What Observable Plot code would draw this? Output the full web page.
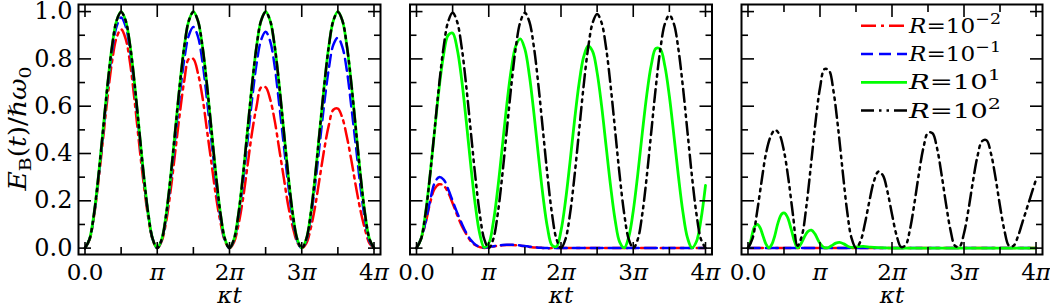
<!DOCTYPE html>
<html><head><meta charset="utf-8">
<script src="https://cdn.jsdelivr.net/npm/d3@7"></script>
<script src="https://cdn.jsdelivr.net/npm/@observablehq/plot@0.6"></script>
<style>
html,body{margin:0;padding:0;background:#fff;}
#chart{position:relative;width:1050px;height:306px;overflow:hidden;background:#fff;}
#chart svg{position:absolute;left:0;top:0;}
</style></head><body><div id="chart"></div>
<script>
// ---- data (kappa*t in units of pi) ----
const kt = [0,.0625,.125,.1875,.25,.3125,.375,.4375,.5,.5625,.625,.6875,.75,.8125,.875,.9375,
  1,1.0625,1.125,1.1875,1.25,1.3125,1.375,1.4375,1.5,1.5625,1.625,1.6875,1.75,1.8125,1.875,1.9375,
  2,2.0625,2.125,2.1875,2.25,2.3125,2.375,2.4375,2.5,2.5625,2.625,2.6875,2.75,2.8125,2.875,2.9375,
  3,3.0625,3.125,3.1875,3.25,3.3125,3.375,3.4375,3.5,3.5625,3.625,3.6875,3.75,3.8125,3.875,3.9375,4];

// Panel 1
const p1Red = [0,.035,.135,.286,.462,.639,.79,.89,.925,.885,.78,.62,.44,.27,.13,.035,
  0,.03,.115,.25,.41,.57,.71,.80,.80,.74,.64,.50,.36,.22,.11,.03,
  0,.025,.10,.21,.35,.49,.60,.68,.68,.63,.54,.42,.30,.18,.09,.025,
  0,.02,.085,.18,.30,.42,.52,.585,.59,.55,.47,.37,.26,.16,.08,.02,0];
const p1Blue = [0,.037,.142,.30,.487,.674,.833,.938,.975,.938,.833,.674,.487,.30,.142,.037,
  0,.035,.137,.29,.47,.65,.80,.90,.935,.895,.79,.63,.455,.28,.13,.033,
  0,.034,.133,.28,.455,.63,.78,.88,.915,.875,.77,.61,.44,.27,.125,.032,
  0,.033,.13,.275,.445,.615,.76,.86,.89,.85,.75,.595,.43,.26,.12,.03,0];
const p1Green = [0,.038,.146,.309,.5,.691,.854,.962,1,.962,.854,.691,.5,.309,.146,.038,
  0,.038,.146,.309,.5,.691,.854,.962,1,.962,.854,.691,.5,.309,.146,.038,
  0,.038,.146,.309,.5,.691,.854,.962,1,.962,.854,.691,.5,.309,.146,.038,
  0,.038,.146,.309,.5,.691,.854,.962,1,.962,.854,.691,.5,.309,.146,.038,0];
const p1Black = [0,.038,.146,.309,.5,.691,.854,.962,.998,.962,.854,.691,.5,.309,.146,.038,
  0,.038,.146,.309,.5,.691,.854,.962,.998,.962,.854,.691,.5,.309,.146,.038,
  0,.038,.146,.309,.5,.691,.854,.962,.998,.962,.854,.691,.5,.309,.146,.038,
  0,.038,.146,.309,.5,.691,.854,.962,.998,.962,.854,.691,.5,.309,.146,.038,0];

// Panel 2
const p2Red = [0,.04,.105,.19,.25,.27,.265,.235,.19,.14,.095,.06,.03,.013,.004,.001,
  .003,.007,.01,.012,.013,.013,.012,.01,.008,.005,.003,.002,.001,0,0,0,
  0,0,0,0,0,0,0,0,0,0,0,0,0,0,0,0,
  0,0,0,0,0,0,0,0,0,0,0,0,0,0,0,0,0];
const p2Blue = [0,.04,.11,.20,.275,.30,.29,.25,.20,.15,.105,.065,.035,.015,.005,.002,
  .004,.008,.011,.013,.014,.014,.013,.011,.009,.006,.004,.002,.001,0,0,0,
  0,0,0,0,0,0,0,0,0,0,0,0,0,0,0,0,
  0,0,0,0,0,0,0,0,0,0,0,0,0,0,0,0,0];
const p2Green = [0,.039,.148,.309,.495,.675,.818,.900,.909,.843,.713,.540,.353,.185,.061,.003,
  .020,.108,.252,.428,.607,.757,.856,.885,.841,.730,.571,.391,.222,.087,.012,.007,
  .074,.200,.365,.540,.696,.807,.855,.832,.742,.600,.429,.260,.117,.025,.001,.047,
  .157,.312,.486,.649,.775,.844,.841,.770,.642,.477,.305,.152,.044,.001,.028,.121,.265];
const p2Black = [0,.038,.146,.308,.498,.688,.85,.957,.995,.957,.85,.688,.498,.308,.146,.038,
  0,.038,.146,.308,.498,.688,.85,.957,.995,.957,.85,.688,.498,.308,.146,.038,
  0,.038,.145,.306,.495,.684,.845,.952,.99,.952,.845,.684,.495,.306,.145,.038,
  0,.037,.144,.304,.493,.681,.841,.948,.985,.948,.841,.681,.493,.304,.144,.037,0];

// Panel 3
const p3FlatX = [0,1,2,3,4];
const p3Red = [0,0,0,0,0];
const p3Blue = [0,0,0,0,0];
const p3GreenX = [0,.03,.06,.09,.13,.17,.21,.25,.29,.33,.37,.42,.47,.51,.55,.60,.65,.69,.73,.78,.83,.88,.93,.99,
  1.05,1.1,1.16,1.22,1.27,1.33,1.4,1.45,1.53,1.6,1.7,1.8,2,2.5,3,3.5,4];
const p3Green = [0,.02,.06,.09,.10,.085,.05,.017,.001,.015,.05,.11,.145,.148,.13,.08,.025,.001,.015,.045,.07,.076,.06,.025,
  .004,.001,.01,.021,.024,.018,.006,.003,.006,.007,.004,.002,0,0,0,0,0];
const p3Black = [0,.04,.15,.28,.40,.47,.50,.48,.41,.29,.14,.01,.054,.181,.353,.532,
  .677,.757,.751,.663,.512,.332,.161,.043,0,.029,.105,.201,.284,.324,.307,.238,
  .143,.055,.005,.012,.080,.192,.318,.426,.488,.486,.423,.313,.187,.076,.010,.006,
  .063,.164,.284,.389,.452,.456,.399,.298,.178,.073,.010,.01,.05,.11,.17,.23,.29];

const seriesExp = ["\u22122", "\u22121", "1", "2"];
const xMajor = [0,1,2,3,4];
const xMinor = [0.5,1.5,2.5,3.5];
const xTickLabels = ["0.0","\u03c0","2\u03c0","3\u03c0","4\u03c0"];
const yMajor = [0,0.2,0.4,0.6,0.8,1.0];
const yMinor = [0.1,0.3,0.5,0.7,0.9];
const yTickLabels = ["0.0","0.2","0.4","0.6","0.8","1.0"];

// ---- styles ----
const styles = [
  {stroke:"#ff0000", strokeWidth:2.5, dash:"15,5,3,5"},
  {stroke:"#0000ff", strokeWidth:2.5, dash:"12,6"},
  {stroke:"#00ff00", strokeWidth:2.8, dash:null},
  {stroke:"#000000", strokeWidth:2.5, dash:"13,5,2.5,5,2.5,5"}
];
const FONT = "DejaVu Serif";
const W = 1050, H = 306;

const rows = (xs, ys) => xs.map((x, i) => ({x, y: ys[i]}));

const panels = [
  {left:78, right:380, ser:[[kt,p1Red],[kt,p1Blue],[kt,p1Green],[kt,p1Black]], ylab:true},
  {left:409.5, right:711.5, ser:[[kt,p2Red],[kt,p2Blue],[kt,p2Green],[kt,p2Black]], ylab:false},
  {left:741, right:1042, ser:[[p3FlatX,p3Red],[p3FlatX,p3Blue],[p3GreenX,p3Green],[kt,p3Black]], ylab:false, legend:true}
];

const chart = document.getElementById("chart");
const blank = () => "";

panels.forEach((p) => {
  const tk = {tickFormat: blank, label: null, strokeWidth: 1.6};
  const marks = [];
  p.ser.forEach(([xs, ys], k) => {
    const s = styles[k];
    marks.push(Plot.line(rows(xs, ys), {x:"x", y:"y", stroke:s.stroke, strokeWidth:s.strokeWidth,
      strokeDasharray: s.dash, curve:"catmull-rom"}));
  });
  marks.push(
    Plot.frame({strokeWidth: 2}),
    Plot.axisX(xMajor, {...tk, anchor:"bottom", tickSize:-12}),
    Plot.axisX(xMajor, {...tk, anchor:"top", tickSize:-12}),
    Plot.axisX(xMinor, {...tk, anchor:"bottom", tickSize:-7}),
    Plot.axisX(xMinor, {...tk, anchor:"top", tickSize:-7}),
    Plot.axisY(yMajor, {...tk, anchor:"left", tickSize:-13}),
    Plot.axisY(yMajor, {...tk, anchor:"right", tickSize:-13}),
    Plot.axisY(yMinor, {...tk, anchor:"left", tickSize:-7}),
    Plot.axisY(yMinor, {...tk, anchor:"right", tickSize:-7}),
    Plot.axisX(xMajor, {anchor:"bottom", tickSize:0, tickPadding:9, label:null, fontSize:23,
      tickFormat: d => xTickLabels[xMajor.indexOf(d)]}),
    Plot.text(["\u03bat"], {frameAnchor:"bottom", lineAnchor:"middle", dy:41.5, fontStyle:"italic", fontSize:23})
  );
  if (p.ylab) marks.push(Plot.axisY(yMajor, {anchor:"left", tickSize:0, tickPadding:6, label:null,
      tickFormat: d => yTickLabels[yMajor.indexOf(d)]}));

  const svg = Plot.plot({
    width: W, height: H,
    marginLeft: p.left, marginRight: W - p.right, marginTop: 4, marginBottom: 52,
    style: {fontFamily: FONT, fontSize: "24px", background: "transparent", overflow: "visible", maxWidth: "none"},
    x: {domain: [-0.09, 4.09]},
    y: {domain: [-0.027, 1.03]},
    marks
  });
  chart.appendChild(svg);
  const g = d3.select(svg);

  // italic pi in the x tick labels
  g.selectAll("text").each(function() {
    const s = this.textContent;
    if (this.childElementCount === 0 && s.includes("\u03c0")) {
      const num = s.replace("\u03c0", "");
      this.textContent = "";
      const sel = d3.select(this);
      if (num) sel.append("tspan").text(num);
      sel.append("tspan").attr("font-style", "italic").text("\u03c0");
    }
  });

  if (p.ylab) {
    const t = g.append("text")
      .attr("transform", "translate(26,128.5) rotate(-90)")
      .attr("text-anchor", "middle")
      .attr("font-family", FONT).attr("font-size", 24).attr("fill", "black")
      .attr("textLength", 124).attr("lengthAdjust", "spacingAndGlyphs");
    t.append("tspan").attr("font-style", "italic").text("E");
    t.append("tspan").attr("font-size", 17).attr("dy", 5).text("B");
    t.append("tspan").attr("dy", -5).text("(");
    t.append("tspan").attr("font-style", "italic").text("t");
    t.append("tspan").text(")/");
    t.append("tspan").attr("font-style", "italic").text("\u210f\u03c9");
    t.append("tspan").attr("font-size", 17).attr("dy", 5).text("0");
  }

  if (p.legend) {
    const rowsY = [25.7, 54, 82.3, 110.6];
    rowsY.forEach((yy, k) => {
      const s = styles[k];
      g.append("line").attr("x1", 861).attr("x2", 907).attr("y1", yy).attr("y2", yy)
        .attr("stroke", s.stroke).attr("stroke-width", s.strokeWidth)
        .attr("stroke-dasharray", s.dash);
      const t = g.append("text").attr("x", 909).attr("y", yy + 7)
        .attr("text-anchor", "start")
        .attr("font-family", FONT).attr("font-size", 20).attr("fill", "black")
        .attr("textLength", 92).attr("lengthAdjust", "spacingAndGlyphs");
      t.append("tspan").attr("font-style", "italic").text("R");
      t.append("tspan").text("=10");
      t.append("tspan").attr("font-size", 15).attr("dy", -9).text(seriesExp[k]);
    });
  }
});
</script></body></html>
